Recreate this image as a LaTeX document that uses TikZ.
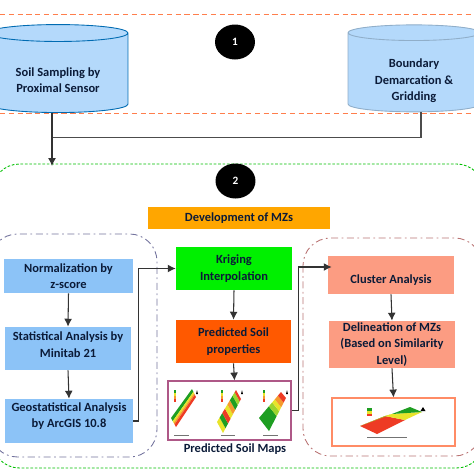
\documentclass[tikz,border=0pt]{standalone}
\usepackage{fontspec}
\setmainfont{Carlito}
\usetikzlibrary{arrows.meta,calc,shapes.geometric}

\definecolor{inkblue}{HTML}{0B1B38}
\definecolor{drumblue}{HTML}{B4D9FB}
\definecolor{stepblue}{HTML}{8CC3F7}
\definecolor{stepsalmon}{HTML}{FC9C82}
\definecolor{mapgreen}{HTML}{1E9E22}
\definecolor{mapyellow}{HTML}{E8E42A}
\definecolor{maporange}{HTML}{F59A2E}
\definecolor{mapred}{HTML}{EE3B24}
\definecolor{maplime}{HTML}{9CD52E}

\tikzset{
	label text/.style={font=\fontsize{7.1}{9.3}\selectfont\bfseries,text=inkblue,align=center},
	drum/.style={cylinder,shape border rotate=90,aspect=0.2,draw=#1,fill=drumblue,
		cylinder uses custom fill,cylinder body fill=drumblue,cylinder end fill=drumblue,
		line width=0.5pt,inner sep=0pt,label text},
	stepbox/.style={label text,fill=#1,inner sep=0pt},
	frame/.style={draw=#1,line width=0.6pt,fill=white,inner sep=0pt},
	badge/.style={ellipse,fill=black,text=white,inner sep=0pt,minimum width=0.8cm,minimum height=0.7cm,
		font=\fontsize{6.4}{8}\selectfont\bfseries},
	flow/.style={-{Latex[length=4.5pt,width=4.5pt]},line width=0.6pt,draw=black!80},
	band/.style={draw=red!45!orange!70,dash pattern=on 3pt off 2pt,line width=0.5pt},
	zone/.style={rounded corners=0.55cm,dash pattern=on 4pt off 2pt on 1pt off 2pt,line width=0.5pt},
	tiny caption/.style={draw=black!55,line width=0.5pt}
}

\begin{document}
\begin{tikzpicture}[x=0.02cm,y=-0.02cm]
	\useasboundingbox (0,0) rectangle (474,474);
	
	% Stage 1
	\draw[band] (0,14) -- (474,14);
	\draw[band] (0,113) -- (474,113);
	\node[drum=blue!40!cyan!70!black,minimum width=2.8cm,minimum height=1.76cm,text height=22.5pt] (soil) at (58,73) {Soil Sampling by\\Proximal Sensor};
	\node[drum=drumblue!80!black,minimum width=2.64cm,minimum height=1.74cm,text height=33pt] (boundary) at (414,72.5) {Boundary\\Demarcation \&\\Gridding};
	\node[badge] (one) at (235,42) {1};
	
	% Stage 2 outlines
	\draw[zone,draw=green!75!black,dash pattern=on 1.5pt off 1pt] (-8,164) rectangle (484,468);
	\draw[zone,draw=blue!30!black!55] (-10,234) rectangle (157,457);
	\draw[zone,draw=red!50!black!55] (303,238) rectangle (482,456);
	\node[badge] (two) at (235.5,181) {2};
	\node[stepbox=orange!70!yellow,minimum width=3.64cm,minimum height=0.44cm] (title) at (239,218) {Development of MZs};
	
	% Left column
	\node[stepbox=stepblue,minimum width=2.58cm,minimum height=0.68cm] (norm) at (68.5,276) {Normalization by\\z-score};
	\node[stepbox=stepblue,minimum width=2.52cm,minimum height=0.86cm,text depth=4.5pt] (stat) at (68,348.5) {Statistical Analysis by\\Minitab 21};
	\node[stepbox=stepblue,minimum width=2.55cm,minimum height=0.88cm,text depth=6.7pt] (geo) at (69,421) {Geostatistical Analysis\\by ArcGIS 10.8};
	
	% Middle column
	\node[stepbox=green!94!black,minimum width=2.32cm,minimum height=0.86cm] (krig) at (234,268.5) {Kriging\\Interpolation};
	\node[stepbox=orange!70!red,minimum width=2.3cm,minimum height=0.86cm] (pred) at (233.5,341.5) {Predicted Soil\\properties};
	\node[frame=magenta!60!black!85,minimum width=2.46cm,minimum height=1.18cm] (maps) at (229.5,410.5) {};
	\node[label text] (mapname) at (235,449) {Predicted Soil Maps};
	
	% Right column
	\node[stepbox=stepsalmon,minimum width=2.52cm,minimum height=0.76cm,text height=10pt,text depth=0pt] (cluster) at (391,275) {Cluster Analysis};
	\node[stepbox=stepsalmon,minimum width=2.52cm,minimum height=0.94cm] (delin) at (392,344.5) {Delineation of MZs\\(Based on Similarity\\Level)};
	\node[frame=orange!50!red!60!white,minimum width=2.46cm,minimum height=0.96cm] (zones) at (393.5,422) {};
	
	% Soil maps, bands run along each strip
	\coordinate (la) at (171,418); \coordinate (ta) at (192,389);
	\coordinate (ra) at (196,397); \coordinate (ba) at (176,427);
	\foreach \from/\to/\col in {0/0.35/mapgreen,0.35/0.55/mapyellow,0.55/0.72/maporange,0.72/1/mapred}
		\fill[\col] ($(la)!\from!(ba)$) -- ($(la)!\to!(ba)$) -- ($(ta)!\to!(ra)$) -- ($(ta)!\from!(ra)$) -- cycle;
	
	\coordinate (lb) at (217,422); \coordinate (tb) at (236,390);
	\coordinate (rb) at (241,399); \coordinate (bb) at (223,433);
	\foreach \from/\to/\col in {0/0.14/mapyellow,0.14/0.28/mapgreen,0.28/0.42/mapred,0.42/0.55/mapyellow,0.55/0.68/maporange,0.68/0.82/mapgreen,0.82/0.93/maplime,0.93/1/mapred}
		\fill[\col] ($(lb)!\from!(tb)$) -- ($(lb)!\to!(tb)$) -- ($(bb)!\to!(rb)$) -- ($(bb)!\from!(rb)$) -- cycle;
	
	\coordinate (lc) at (259,418); \coordinate (tc) at (281,392);
	\coordinate (rc) at (286,398); \coordinate (bc) at (269,431);
	\foreach \from/\to/\col in {0/0.45/mapgreen,0.45/0.6/maplime,0.6/0.72/mapyellow,0.72/0.86/maporange,0.86/1/mapred}
		\fill[\col] ($(lc)!\from!(tc)$) -- ($(lc)!\to!(tc)$) -- ($(bc)!\to!(rc)$) -- ($(bc)!\from!(rc)$) -- cycle;
	
	% Map legends, north marks and captions
	\foreach \x/\north/\capend in {174/197/189,221/242/235,263/287/278}{
		\fill[mapgreen] (\x,390) rectangle ++(2,3);
		\fill[mapyellow] (\x,393) rectangle ++(2,3);
		\fill[maporange] (\x,396) rectangle ++(2,3);
		\fill[mapred] (\x,399) rectangle ++(2,3);
		\fill[black] (\north,390) -- ++(1,4) -- ++(-2,0) -- cycle;
		\draw[tiny caption] (\x,435) -- (\capend,435);
	}
	
	% Zone map
	\fill[mapred] (360,426) -- (377,434) -- (405,420) -- (385,416) -- cycle;
	\fill[maplime] (360,426) -- (385,416) -- (392,414) -- cycle;
	\fill[mapyellow] (385,416) -- (405,420) -- (422,412) -- (392,414) -- cycle;
	\fill[mapgreen] (392,414) -- (422,412) -- (410,407) -- cycle;
	\fill[mapgreen] (367,408) rectangle ++(5,3);
	\fill[mapyellow] (367,411) rectangle ++(5,3);
	\fill[mapred] (367,414) rectangle ++(5,2);
	\fill[black] (423,407) -- ++(2.5,4) -- ++(-5,0) -- cycle;
	\draw[tiny caption] (367,437) -- (407,437);
	
	% Connectors
	\draw[line width=0.6pt,draw=black!70] ([shift={(7,0)}]boundary.south) -- ++(0,25) -| ([shift={(-6,0)}]soil.south);
	\draw[flow] ([shift={(-6,0)}]soil.south) -- ++(0,53);
	\draw[flow] (norm.south) -- (stat.north);
	\draw[flow] (stat.south) -- (geo.north);
	\draw[flow] (geo.east) -- ++(5,0) |- (krig.west);
	\draw[flow] (krig.south) -- (pred.north);
	\draw[flow] (pred.south) -- ([shift={(5,0)}]maps.north);
	\draw[flow] (maps.east) -- ++(7,0) |- ([shift={(4,-8)}]cluster.west);
	\draw[flow] (cluster.south) -- (delin.north);
	\draw[flow] (delin.south) -- (zones.north);
	
\end{tikzpicture}
\end{document}
